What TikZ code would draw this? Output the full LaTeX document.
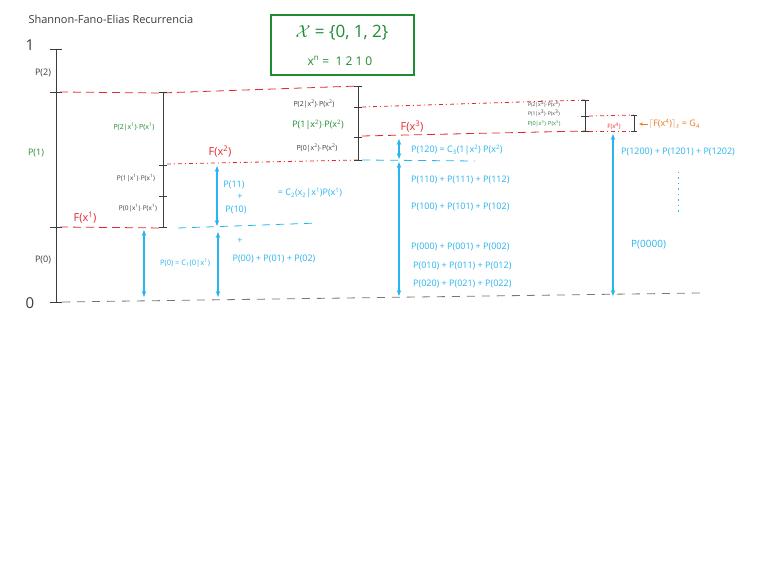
\documentclass[tikz,border=0pt]{standalone}
\usepackage{fontspec}
\setmainfont{Open Sans}
\usetikzlibrary{arrows.meta}
\definecolor{hred}{RGB}{230,40,45}
\definecolor{hgreen}{RGB}{30,140,50}
\definecolor{hcyan}{RGB}{40,180,240}
\definecolor{horange}{RGB}{240,120,30}
\definecolor{hgray}{RGB}{60,60,60}
\newcommand{\xsup}[1]{x\textsuperscript{#1}}
\begin{document}
\begin{tikzpicture}[x=1pt,y=-1pt,
  lab/.style={font=\fontsize{9}{10}\selectfont,inner sep=1pt},
  tiny/.style={font=\fontsize{5}{6}\selectfont,inner sep=0.5pt},
  bar/.style={hgray,line width=0.8pt},
  tick/.style={hgray,line width=0.8pt},
  rdash/.style={hred,dash pattern=on 8pt off 5pt,line width=0.8pt},
  rdot/.style={hred,dash pattern=on 4pt off 3pt on 1pt off 3pt,line width=0.8pt},
  cdash/.style={hcyan,dash pattern=on 8pt off 6pt,line width=0.8pt},
  carrow/.style={hcyan,line width=1.2pt,{Stealth[length=6pt]}-{Stealth[length=6pt]}},
]
\useasboundingbox (0,0) rectangle (768,588);
\fill[white] (0,0) rectangle (768,588);
\node[anchor=west,font=\fontsize{11}{13}\selectfont,text=hgray] (title) at (25,19) {Shannon-Fano-Elias Recurrencia};
% box
\node[draw=hgreen,line width=1.2pt,minimum width=143pt,minimum height=60pt] (box) at (342.5,45) {};
\node[text=hgreen,font=\fontsize{17}{18}\selectfont] (alph) at (342,33) {$\mathcal{X}$ = \{0, 1, 2\}};
\node[text=hgreen,font=\fontsize{12}{13}\selectfont] (xn) at (340,61) {\xsup{n} =\ \ 1\ 2\ 1\ 0};
% main axis
\coordinate (a1) at (56,49); \coordinate (a0) at (56,302);
\draw[bar] (a1) -- (a0);
\foreach \y in {49,92,227,302} \draw[tick] (50,\y) -- (62,\y);
\node[font=\fontsize{15}{16}\selectfont,text=hgray] (one) at (30,45) {1};
\node[font=\fontsize{15}{16}\selectfont,text=hgray] (zero) at (30,303) {0};
\node[lab,text=hgray] (p2) at (43,73) {P(2)};
\node[lab,text=hgreen] (p1) at (36,153) {P(1)};
\node[lab,text=hgray] (p0) at (43,260) {P(0)};
\draw[hgray!70,dash pattern=on 8pt off 7pt,line width=0.8pt] (62,302) -- (700,293);
% level 2 bracket
\draw[rdash] (60,92) -- (160,93) -- (358,86);
\draw[rdash] (60,227) -- (163,228);
\node[text=hred,font=\fontsize{11}{12}\selectfont] (F1) at (85,218) {F(\xsup{1})};
\draw[bar] (163,92) -- (163,227);
\foreach \y in {92,165,196,227} \draw[tick] (159,\y) -- (167,\y);
\node[lab,text=hgreen,font=\fontsize{7}{8}\selectfont] (l21) at (134,127) {P(2|\xsup{1})$\cdot$P(\xsup{1})};
\node[lab,text=hgray,font=\fontsize{6.5}{7}\selectfont] (l11) at (136,178) {P(1|\xsup{1})$\cdot$P(\xsup{1})};
\node[lab,text=hgray,font=\fontsize{6.5}{7}\selectfont] (l01) at (138,208) {P(0|\xsup{1})$\cdot$P(\xsup{1})};
\draw[rdot] (167,164) -- (358,160);
\node[text=hred,font=\fontsize{11}{12}\selectfont] (F2) at (220,152) {F(\xsup{2})};
\draw[cdash] (178,228) -- (318,223);
\draw[carrow] (144,230) -- (144,297);
\node[lab,text=hcyan,font=\fontsize{7.5}{8}\selectfont] (c0) at (185,263) {P(0) = C\textsubscript{1}(0|\xsup{1})};
\draw[carrow] (217,166) -- (217,226);
\draw[carrow] (218,232) -- (218,297);
\node[lab,text=hcyan] (p11) at (234,185) {P(11)};
\node[lab,text=hcyan] (pl1) at (240,197) {+};
\node[lab,text=hcyan] (p10) at (236,210) {P(10)};
\node[lab,text=hcyan] (c2) at (310,193) {= C\textsubscript{2}(x\textsubscript{2}|\xsup{1})P(\xsup{1})};
\node[lab,text=hcyan] (pl2) at (240,241) {+};
\node[lab,text=hcyan] (p0x) at (274,259) {P(00) + P(01) + P(02)};
% level 3 bracket
\draw[bar] (358,86) -- (358,160);
\foreach \y in {86,107,137,160} \draw[tick] (354,\y) -- (362,\y);
\node[lab,text=hgray,font=\fontsize{7}{8}\selectfont] (l22) at (314,104) {P(2|\xsup{2})$\cdot$P(\xsup{2})};
\node[lab,text=hgreen] (l12) at (318,125) {P(1|\xsup{2})$\cdot$P(\xsup{2})};
\node[lab,text=hgray,font=\fontsize{7}{8}\selectfont] (l02) at (317,148) {P(0|\xsup{2})$\cdot$P(\xsup{2})};
\draw[rdot] (362,107) -- (585,100);
\draw[rdash] (362,136) -- (585,131);
\node[text=hred,font=\fontsize{11}{12}\selectfont] (F3) at (412,127) {F(\xsup{3})};
\draw[cdash] (362,160) -- (475,161);
\draw[carrow] (399,139) -- (399,159);
\draw[carrow] (399,162) -- (399,296);
\node[lab,text=hcyan,anchor=west] (c3) at (410,150) {P(120) = C\textsubscript{3}(1|\xsup{2}) P(\xsup{2})};
\node[lab,text=hcyan,anchor=west] (q1) at (410,180) {P(110) + P(111) + P(112)};
\node[lab,text=hcyan,anchor=west] (q2) at (410,207) {P(100) + P(101) + P(102)};
\node[lab,text=hcyan,anchor=west] (q3) at (410,247) {P(000) + P(001) + P(002)};
\node[lab,text=hcyan,anchor=west] (q4) at (412,266) {P(010) + P(011) + P(012)};
\node[lab,text=hcyan,anchor=west] (q5) at (412,284) {P(020) + P(021) + P(022)};
% level 4 bracket
\draw[bar] (585,100) -- (585,131);
\foreach \y in {100,116,131} \draw[tick] (581,\y) -- (589,\y);
\node[tiny,text=hgray] (l23) at (544,104) {P(2|\xsup{3})$\cdot$P(\xsup{3})};
\node[tiny,text=hgray] (l13) at (544,113) {P(1|\xsup{3})$\cdot$P(\xsup{3})};
\node[tiny,text=hgreen,font=\fontsize{5.5}{6}\selectfont] (l03) at (544,124) {P(0|\xsup{3})$\cdot$P(\xsup{3})};
\draw[rdot] (589,116) -- (634,115);
\draw[rdot] (589,131) -- (634,131);
\draw[bar] (634,115) -- (634,131);
\foreach \y in {115,131} \draw[tick] (631,\y) -- (637,\y);
\node[tiny,text=hred,font=\fontsize{6}{7}\selectfont] (F4) at (614,126) {F(\xsup{4})};
\coordinate (oa) at (648,124);
\draw[horange,line width=0.8pt,-{Stealth[length=4pt]}] (oa) -- (639,124);
\node[lab,text=horange,anchor=west] (G) at (648,124) {$\lceil$F(\xsup{4})$\rceil$\textsubscript{$\ell$} = G\textsubscript{4}};
\draw[carrow] (613,134) -- (613,296);
\node[lab,text=hcyan,anchor=west] (r1) at (620,152) {P(1200) + P(1201) + P(1202)};
\draw[hcyan,line width=0.8pt,dash pattern=on 1.5pt off 4pt] (678,172) -- (678,213);
\node[lab,text=hcyan,anchor=west,font=\fontsize{10}{11}\selectfont] (r2) at (630,245) {P(0000)};
\end{tikzpicture}
\end{document}
